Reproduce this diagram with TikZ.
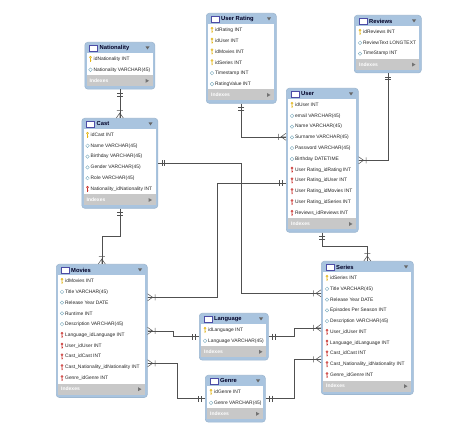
\documentclass[tikz,border=0pt]{standalone}
\usepackage{fontspec}
\setmainfont{Liberation Sans}
\definecolor{hdrblue}{HTML}{A9C4DF}
\definecolor{framec}{HTML}{9DB7D0}
\definecolor{idxgray}{HTML}{C8C8C8}
\definecolor{pkgold}{HTML}{E2B517}
\definecolor{fkred}{HTML}{C9302C}
\definecolor{colcyan}{HTML}{6FA3B8}
\definecolor{linegray}{HTML}{505050}
\newcommand\dbtable[7]{%
	\pgfmathsetmacro\tbH{36+10.8*(#5-1)}
	\pgfmathsetmacro\tbR{#2+#4}
	\pgfmathsetmacro\tbB{#3+22.5+10.8*(#5-1)}
	\node[tblframe,minimum width=#4pt,minimum height=\tbH pt,anchor=north west] (#1) at (#2,#3) {};
	\fill[white] ({#2+2},{#3+11.5}) rectangle ({\tbR-2},\tbB);
	\fill[idxgray] ({#2+2},\tbB) rectangle ({\tbR-2},{\tbB+11});
	\draw[tabicon] ({#2+5},{#3+3}) rectangle ({#2+13},{#3+9});
	\fill[blue!50!black!70] ({#2+5},{#3+3}) rectangle ({#2+13},{#3+4.5});
	\node[tbltitle] (#1-title) at ({#2+15},{#3+6}) {#6};
	\fill[black!60] ({\tbR-9},{#3+4.5})--({\tbR-5},{#3+4.5})--({\tbR-7},{#3+7.5})--cycle;
	\node[idxtext] (#1-idx) at ({#2+5},{\tbB+5.5}) {Indexes};
	\fill[black!55] ({\tbR-9},{\tbB+3.5})--({\tbR-9},{\tbB+7.5})--({\tbR-5.5},{\tbB+5.5})--cycle;
	\foreach \k/\t [count=\i from 0] in {#7}{
	\path ({#2+6},{#3+17+10.8*\i}) pic{\k} node[rowtext] (#1-r\i) at ({#2+9},{#3+17+10.8*\i}) {\t};
	}
}
\begin{document}
\begin{tikzpicture}[x=1pt,y=-1pt,
	tblframe/.style={draw=framec,fill=hdrblue,rounded corners=3pt,line width=0.6pt,inner sep=0pt},
	tabicon/.style={draw=blue!50!black!70,fill=white,line width=0.4pt},
	tbltitle/.style={anchor=west,inner sep=0pt,text=black!85!blue,font=\fontsize{5.8}{7}\selectfont\bfseries},
	idxtext/.style={anchor=west,inner sep=0pt,text=white,font=\fontsize{5}{6}\selectfont\bfseries},
	rowtext/.style={anchor=west,inner sep=0pt,text=black!85,font=\fontsize{4.9}{6}\selectfont},
	conn/.style={draw=linegray,line width=0.5pt}]
	\path[fill=white] (0,0) rectangle (474,427);
	\tikzset{pk/.pic={
	\draw[pkgold,line width=0.55pt] (0,-1.8) circle (1) (0,-0.8)--(0,2.8) (0,1.7)--(0.9,1.7);
	}}
	\tikzset{fk/.pic={
	\draw[fkred,line width=0.55pt] (0,-1.8) circle (1) (0,-0.8)--(0,2.8) (0,1.7)--(0.9,1.7);
	}}
	\tikzset{col/.pic={
	\draw[colcyan,line width=0.35pt,fill=white] (-1.8,0)--(0,-1.8)--(1.8,0)--(0,1.8)--cycle;
	}}
	\tikzset{onemark/.pic={
	\draw[conn] (4,-3)--(4,3) (6.5,-3)--(6.5,3);
	}}
	\tikzset{manymark/.pic={
	\draw[conn] (0,-3.5)--(5,0)--(0,3.5) (0,0)--(5,0) (7.5,-3)--(7.5,3);
	}}
	\dbtable{nationality}{84.5}{42}{70}{2}{Nationality}{pk/idNationality INT,col/Nationality VARCHAR(45)}
	\dbtable{userrating}{206}{13}{70}{6}{User Rating}{pk/idRating INT,pk/idUser INT,pk/idMovies INT,pk/idSeries INT,col/Timestamp INT,col/RatingValue INT}
	\dbtable{reviews}{354}{15}{67}{3}{Reviews}{pk/idReviews INT,col/ReviewText LONGTEXT,col/TimeStamp INT}
	\dbtable{user}{286}{88}{72}{11}{User}{pk/idUser INT,col/email VARCHAR(45),col/Name VARCHAR(45),col/Surname VARCHAR(45),col/Password VARCHAR(45),col/Birthday DATETIME,fk/User Rating\_idRating INT,fk/User Rating\_idUser INT,fk/User Rating\_idMovies INT,fk/User Rating\_idSeries INT,fk/Reviews\_idReviews INT}
	\dbtable{cast}{81.5}{118}{76}{6}{Cast}{pk/idCast INT,col/Name VARCHAR(45),col/Birthday VARCHAR(45),col/Gender VARCHAR(45),col/Role VARCHAR(45),fk/Nationality\_idNationality INT}
	\dbtable{movies}{56}{264}{91}{10}{Movies}{pk/idMovies INT,col/Title VARCHAR(45),col/Release Year DATE,col/Runtime INT,col/Description VARCHAR(45),fk/Language\_idLanguage INT,fk/User\_idUser INT,fk/Cast\_idCast INT,fk/Cast\_Nationality\_idNationality INT,fk/Genre\_idGenre INT}
	\dbtable{series}{321}{261}{92}{10}{Series}{pk/idSeries INT,col/Title VARCHAR(45),col/Release Year DATE,col/Episodes Per Season INT,col/Description VARCHAR(45),fk/User\_idUser INT,fk/Language\_idLanguage INT,fk/Cast\_idCast INT,fk/Cast\_Nationality\_idNationality INT,fk/Genre\_idGenre INT}
	\dbtable{language}{199}{313}{69}{2}{Language}{pk/idLanguage INT,col/Language VARCHAR(45)}
	\dbtable{genre}{205}{375}{60}{2}{Genre}{pk/idGenre INT,col/Genre VARCHAR(45)}
	\draw[conn] (nationality.south) pic[rotate=-90]{onemark}--(cast.north) pic[rotate=90]{manymark};
	\draw[conn] (userrating.south) pic[rotate=-90]{onemark} |-([yshift=23.5pt]user.west) pic[rotate=180]{manymark};
	\draw[conn] (reviews.south) pic[rotate=-90]{onemark} |-(user.east) pic{manymark};
	\draw[conn] (cast.east) pic{onemark}--++(83,0) |-([yshift=34.6pt]series.west) pic[rotate=180]{manymark};
	\draw[conn] ([yshift=-22.5pt]user.west) pic[rotate=180]{onemark}--++(-69,0) |-([yshift=33.6pt]movies.east) pic{manymark};
	\draw[conn] (cast.south) pic[rotate=-90]{onemark}--++(0,28) -|(movies.north) pic[rotate=90]{manymark};
	\draw[conn] (user.south) pic[rotate=-90]{onemark}--++(0,14) -|(series.north) pic[rotate=90]{manymark};
	\draw[conn] (language.west) pic[rotate=180]{onemark}--++(-26,0) |-(movies.east) pic{manymark};
	\draw[conn] (language.east) pic{onemark}--++(26,0) |-(series.west) pic[rotate=180]{manymark};
	\draw[conn] (genre.west) pic[rotate=180]{onemark}--++(-28,0) |-([yshift=-32.4pt]movies.east) pic{manymark};
	\draw[conn] (genre.east) pic{onemark}--++(29,0) |-([yshift=-31.4pt]series.west) pic[rotate=180]{manymark};
\end{tikzpicture}
\end{document}
